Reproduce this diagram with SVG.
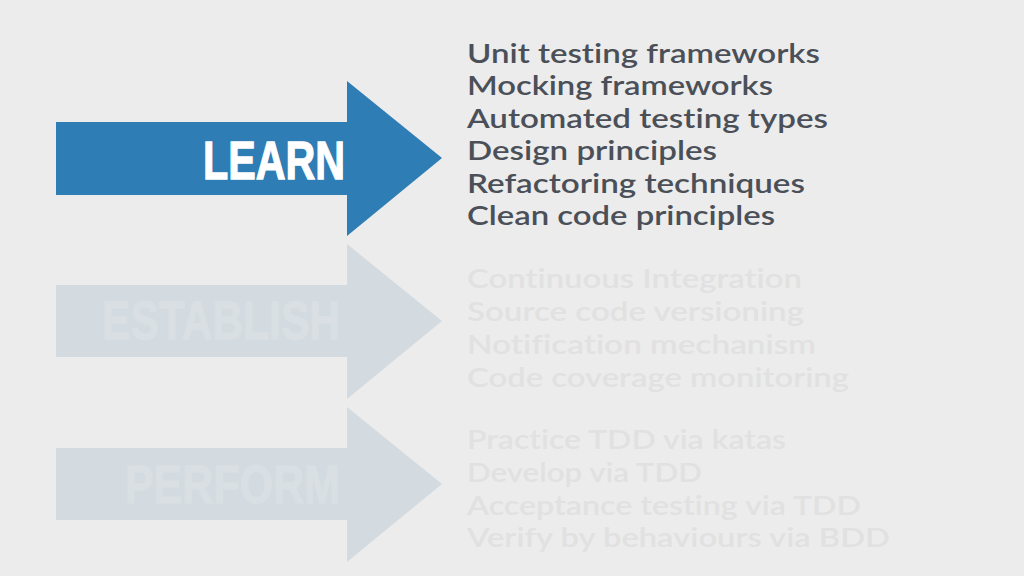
<svg xmlns="http://www.w3.org/2000/svg" width="1024" height="576" viewBox="0 0 1024 576">
<style>
.lbl{font-family:"Liberation Sans",Arial,sans-serif;font-weight:bold;font-size:54px;stroke-width:1.3px}
.it{font-family:Lato,"Open Sans",sans-serif;font-weight:600;font-size:26.5px;font-variant-ligatures:none;font-feature-settings:"liga" 0,"clig" 0,"dlig" 0}
.dark{fill:#4b5058}
.faint{fill:#e1e1e1}
</style>
<rect width="1024" height="576" fill="#ececec"/>
<g id="learn">
<polygon points="56,122 347,122 347,81 442,158 347,236 347,195 56,195" fill="#2f7db5"/>
<text class="lbl" x="203" y="179" fill="#ffffff" stroke="#ffffff" textLength="142" lengthAdjust="spacingAndGlyphs">LEARN</text>
</g>
<g id="establish">
<polygon points="56,285 347,285 347,244 442,321 347,399 347,357 56,357" fill="#d3dbe0"/>
<text class="lbl" x="102" y="339" fill="#d9dfe3" stroke="#d9dfe3" textLength="238" lengthAdjust="spacingAndGlyphs">ESTABLISH</text>
</g>
<g id="perform">
<polygon points="56,448 347,448 347,407 442,484 347,562 347,520 56,520" fill="#d3dbe0"/>
<text class="lbl" x="125" y="503" fill="#d9dfe3" stroke="#d9dfe3" textLength="215" lengthAdjust="spacingAndGlyphs">PERFORM</text>
</g>
<g id="learn-items" class="it dark">
<text x="467" y="63" textLength="353" lengthAdjust="spacingAndGlyphs">Unit testing frameworks</text>
<text x="467" y="95" textLength="306" lengthAdjust="spacingAndGlyphs">Mocking frameworks</text>
<text x="467" y="128" textLength="361" lengthAdjust="spacingAndGlyphs">Automated testing types</text>
<text x="467" y="160" textLength="250" lengthAdjust="spacingAndGlyphs">Design principles</text>
<text x="467" y="193" textLength="338" lengthAdjust="spacingAndGlyphs">Refactoring techniques</text>
<text x="467" y="225" textLength="308" lengthAdjust="spacingAndGlyphs">Clean code principles</text>
</g>
<g id="establish-items" class="it faint">
<text x="467" y="288" textLength="335" lengthAdjust="spacingAndGlyphs">Continuous Integration</text>
<text x="467" y="321" textLength="337" lengthAdjust="spacingAndGlyphs">Source code versioning</text>
<text x="467" y="354" textLength="349" lengthAdjust="spacingAndGlyphs">Notification mechanism</text>
<text x="467" y="387" textLength="382" lengthAdjust="spacingAndGlyphs">Code coverage monitoring</text>
</g>
<g id="perform-items" class="it faint">
<text x="467" y="449" textLength="319" lengthAdjust="spacingAndGlyphs">Practice TDD via katas</text>
<text x="467" y="482" textLength="235" lengthAdjust="spacingAndGlyphs">Develop via TDD</text>
<text x="467" y="515" textLength="394" lengthAdjust="spacingAndGlyphs">Acceptance testing via TDD</text>
<text x="467" y="547" textLength="423" lengthAdjust="spacingAndGlyphs">Verify by behaviours via BDD</text>
</g>
<g id="connectors"></g>
</svg>
